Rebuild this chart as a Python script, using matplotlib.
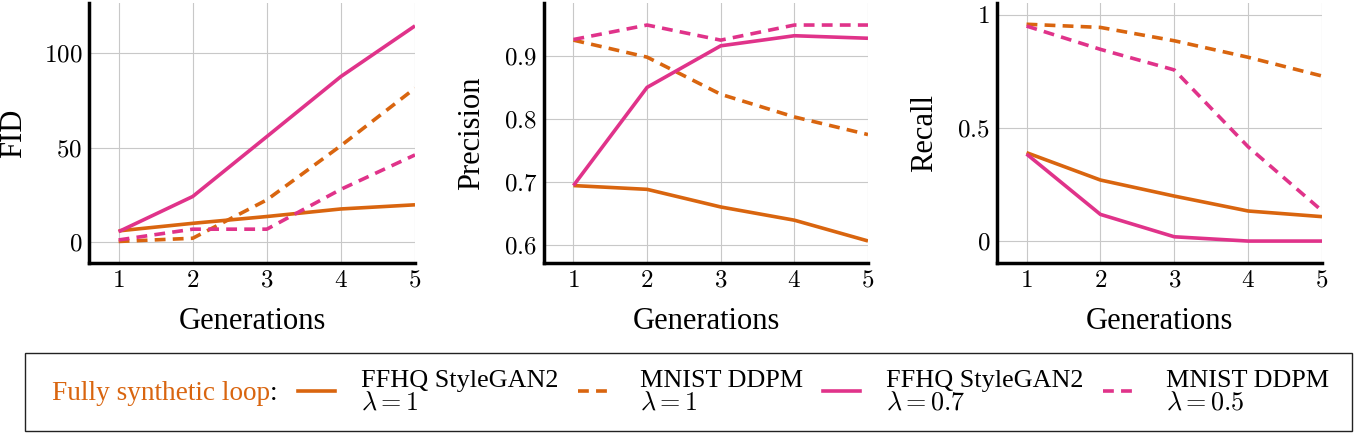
import matplotlib
matplotlib.use("Agg")
import matplotlib.pyplot as plt
from matplotlib.lines import Line2D
from matplotlib.patches import Rectangle

plt.rcParams['font.family'] = ['Liberation Serif', 'DejaVu Serif']
plt.rcParams['mathtext.fontset'] = 'cm'

ORANGE = '#d9650f'
PINK = '#e0338a'

generations = [1, 2, 3, 4, 5]

# FID
fid_ffhq_1 = [6.0, 10.0, 13.6, 17.6, 19.8]
fid_mnist_1 = [0.4, 2.1, 22.4, 51.1, 81.5]
fid_ffhq_07 = [5.6, 24.2, 55.9, 87.7, 114.5]
fid_mnist_05 = [1.2, 6.9, 6.9, 28.0, 46.2]

# Precision
prec_ffhq_1 = [0.694, 0.688, 0.660, 0.639, 0.606]
prec_mnist_1 = [0.925, 0.898, 0.839, 0.803, 0.775]
prec_ffhq_07 = [0.694, 0.850, 0.916, 0.932, 0.928]
prec_mnist_05 = [0.926, 0.949, 0.925, 0.949, 0.949]

# Recall
rec_ffhq_1 = [0.391, 0.270, 0.199, 0.133, 0.108]
rec_mnist_1 = [0.959, 0.945, 0.886, 0.813, 0.730]
rec_ffhq_07 = [0.385, 0.118, 0.019, 0.0, 0.0]
rec_mnist_05 = [0.951, 0.848, 0.757, 0.417, 0.134]

legend_labels = ["FFHQ StyleGAN2\n$\\lambda = 1$",
                 "MNIST DDPM\n$\\lambda = 1$",
                 "FFHQ StyleGAN2\n$\\lambda = 0.7$",
                 "MNIST DDPM\n$\\lambda = 0.5$"]

W, H = 1355, 436
fig = plt.figure(figsize=(W / 100, H / 100), dpi=100)

LW = 2.6
DASH = (3.0, 2.0)
LEG_FS = 18.8

panels = [
    dict(left=89, right=415, ylabel='FID', ylim=(-11, 126.6), yticks=[0, 50, 100],
         yfmt='{:g}', series=[fid_ffhq_1, fid_mnist_1, fid_ffhq_07, fid_mnist_05],
         labx=-0.187),
    dict(left=544, right=868, ylabel='Precision', ylim=(0.571, 0.984),
         yticks=[0.6, 0.7, 0.8, 0.9], yfmt='{:.1f}',
         series=[prec_ffhq_1, prec_mnist_1, prec_ffhq_07, prec_mnist_05],
         labx=-0.179),
    dict(left=997, right=1322, ylabel='Recall', ylim=(-0.097, 1.053),
         yticks=[0, 0.5, 1], yfmt='{:g}',
         series=[rec_ffhq_1, rec_mnist_1, rec_ffhq_07, rec_mnist_05],
         labx=-0.178),
]

styles = [(ORANGE, '-'), (ORANGE, '--'), (PINK, '-'), (PINK, '--')]

top, bottom = 3, 263
for p in panels:
    ax = fig.add_axes([p['left'] / W, 1 - bottom / H,
                       (p['right'] - p['left']) / W, (bottom - top) / H])
    for vals, (c, ls) in zip(p['series'], styles):
        line, = ax.plot(generations, vals, color=c, linestyle=ls, linewidth=LW,
                        solid_capstyle='butt', dash_capstyle='butt')
        if ls == '--':
            line.set_dashes(DASH)
    ax.set_xlim(0.6, 5.0)
    ax.set_ylim(*p['ylim'])
    ax.set_xticks(generations)
    ax.set_xticklabels([f'${g}$' for g in generations])
    ax.set_yticks(p['yticks'])
    ax.set_yticklabels(['$' + p['yfmt'].format(v) + '$' for v in p['yticks']])
    ax.tick_params(length=0, labelsize=18, pad=5)
    ax.grid(True, color='#c8c8c8', linewidth=0.8)
    ax.set_axisbelow(True)
    for s in ['top', 'right']:
        ax.spines[s].set_visible(False)
    for s in ['left', 'bottom']:
        ax.spines[s].set_linewidth(2.5)
        ax.spines[s].set_color('black')
    ax.set_ylabel(p['ylabel'], fontsize=22)
    ax.yaxis.set_label_coords(p['labx'], 0.5)
    ax.set_xlabel('Generations', fontsize=22)
    ax.xaxis.set_label_coords(0.5, -0.169)

# legend box
fig.patches.append(Rectangle((25 / W, 1 - 431 / H), (1352 - 25) / W, 78 / H,
                             transform=fig.transFigure, fill=False,
                             edgecolor='#222222', linewidth=1.0))
t1 = fig.text(52 / W, 1 - 400 / H, 'Fully synthetic loop', color=ORANGE,
              fontsize=19.6, va='baseline', ha='left')
ax.annotate(':', xy=(1, 0), xycoords=t1, fontsize=19.6, color='black',
            va='bottom', ha='left', annotation_clip=False)
handles = []
for c, ls in styles:
    h = Line2D([], [], color=c, linestyle=ls, linewidth=LW)
    if ls == '--':
        h.set_dashes(DASH)
    handles.append(h)
leg = fig.legend(handles, legend_labels, loc='center left',
                 bbox_to_anchor=(298 / W, 1 - 392 / H), ncol=4, frameon=False,
                 fontsize=LEG_FS, handlelength=1.4, handletextpad=1.0,
                 columnspacing=0.75, borderpad=0, borderaxespad=0)
for t in leg.get_texts():
    t.set_linespacing(1.0)

fig.savefig('out.png', dpi=100)
